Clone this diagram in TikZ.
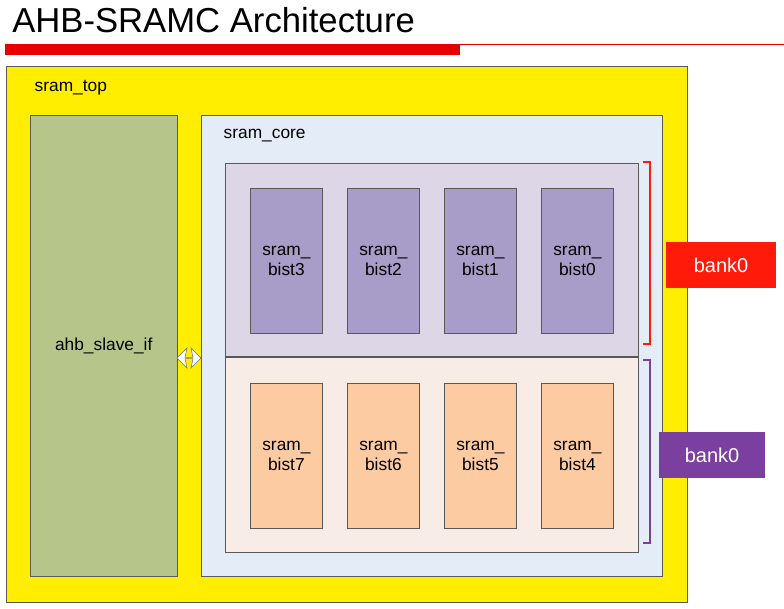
\documentclass[tikz,border=0pt]{standalone}
\usepackage{fontspec}
\setmainfont{Liberation Sans}
\usetikzlibrary{positioning,shapes.arrows}
\definecolor{topyellow}{HTML}{FFEE00}
\definecolor{slavegreen}{HTML}{B6C68A}
\definecolor{corebg}{HTML}{E4ECF7}
\definecolor{banktop}{HTML}{DCD6E6}
\definecolor{bankbot}{HTML}{F8ECE6}
\definecolor{bistpurple}{HTML}{A89CC8}
\definecolor{bistorange}{HTML}{FCCBA2}
\definecolor{tagred}{HTML}{FF1A0A}
\definecolor{tagpurple}{HTML}{7B3FA0}
\tikzset{>=latex}
\tikzset{
  blk/.style={draw=black!65,line width=0.6pt,anchor=north west,inner sep=0pt},
  bist/.style={blk,minimum width=54pt,minimum height=109pt,align=center,font=\fontsize{13}{15}\selectfont},
  tag/.style={minimum width=80pt,minimum height=35pt,text=white,font=\fontsize{15}{17}\selectfont}
}
\begin{document}
\begin{tikzpicture}[x=0.75pt,y=-0.75pt]
  \useasboundingbox (0,0) rectangle (784,609);
  % title
  \node[anchor=base west,inner sep=0pt,font=\fontsize{26}{28}\selectfont] (title) at (12,33) {AHB-SRAMC Architecture};
  \fill[red!90!black] (5,44) rectangle (460,55);
  \draw[red!90!black,line width=0.6pt] (460,44.5) -- (784,44.5);
  % outer blocks
  \node[blk,fill=topyellow,minimum width=511pt,minimum height=402pt] (top) at (6,66) {};
  \node[anchor=west,font=\fontsize{13}{15}\selectfont] (toplbl) at (30,88) {sram\_top};
  \node[blk,fill=slavegreen,minimum width=110pt,minimum height=346pt] (slave) at (30,115) {};
  \node[font=\fontsize{13}{15}\selectfont] (slavelbl) at (slave.center) {ahb\_slave\_if};
  \node[blk,fill=corebg,minimum width=346pt,minimum height=346pt] (core) at (201,115) {};
  \node[anchor=west,font=\fontsize{13}{15}\selectfont] (corelbl) at (219,136) {sram\_core};
  \node[blk,fill=banktop,minimum width=310pt,minimum height=145pt] (bank1) at (225,163) {};
  \node[blk,fill=bankbot,minimum width=310pt,minimum height=146pt] (bank2) at (225,357) {};
  % interface arrow
  \node[double arrow,draw=black!55,fill=white,minimum height=18pt,minimum width=15pt,
        double arrow head extend=3pt,double arrow head indent=1.5pt,inner sep=0pt] (link) at (189,358) {};
  % bist blocks
  \foreach \i/\x in {3/250,2/347,1/444,0/541}
    \node[bist,fill=bistpurple] (bist\i) at (\x,188) {sram\_\\bist\i};
  \foreach \i/\x in {7/250,6/347,5/444,4/541}
    \node[bist,fill=bistorange] (bist\i) at (\x,383) {sram\_\\bist\i};
  % bank brackets
  \draw[tagred,line width=2pt] (643,162) -- (650,162) -- (650,344) -- (643,344);
  \draw[tagpurple,line width=2pt] (643,360) -- (650,360) -- (650,543) -- (643,543);
  \node[tag,fill=tagred,minimum width=82pt] (tag1) at (721,265) {bank0};
  \node[tag,fill=tagpurple,minimum width=79pt] (tag2) at (712,455) {bank0};
\end{tikzpicture}
\end{document}
